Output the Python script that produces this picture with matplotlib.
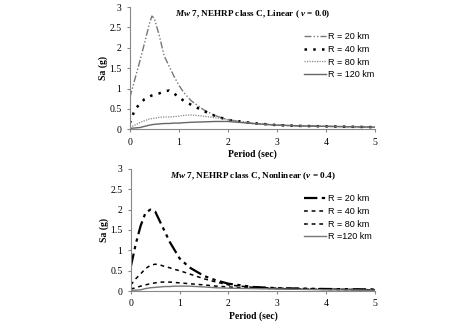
import numpy as np
import matplotlib
matplotlib.use("Agg")
import matplotlib.pyplot as plt

plt.rcParams['font.family'] = 'Liberation Serif'
plt.rcParams['mathtext.fontset'] = 'custom'
plt.rcParams['mathtext.it'] = 'Liberation Serif:italic:bold'
plt.rcParams['mathtext.rm'] = 'Liberation Serif:bold'

# Linear case (v = 0.0)
t_lin = [0, 0.1, 0.2, 0.3, 0.4, 0.45, 0.5, 0.6, 0.7, 0.8, 0.9, 1.0, 1.1, 1.25, 1.5,
         1.75, 2.0, 2.5, 3.0, 3.5, 4.0, 4.5, 5.0]
lin_r20 = [0.78, 1.22, 1.66, 2.12, 2.6, 2.78, 2.72, 2.3, 1.8, 1.55, 1.3, 1.08, 0.9, 0.7, 0.48,
           0.33, 0.23, 0.14, 0.1, 0.08, 0.07, 0.06, 0.05]
lin_r40 = [0.15, 0.48, 0.62, 0.74, 0.8, 0.83, 0.85, 0.88, 0.93, 0.95, 0.88, 0.78, 0.7, 0.6, 0.45,
           0.32, 0.23, 0.15, 0.1, 0.08, 0.07, 0.06, 0.05]
lin_r80 = [0.05, 0.1, 0.16, 0.21, 0.25, 0.26, 0.27, 0.29, 0.3, 0.3, 0.31, 0.32, 0.34, 0.35, 0.32,
           0.28, 0.24, 0.15, 0.1, 0.08, 0.07, 0.06, 0.05]
lin_r120 = [0.02, 0.03, 0.04, 0.07, 0.1, 0.11, 0.12, 0.13, 0.14, 0.14, 0.15, 0.15, 0.16, 0.17, 0.18,
            0.19, 0.19, 0.14, 0.1, 0.08, 0.07, 0.06, 0.05]

# Nonlinear case (v = 0.4)
t_nl = [0, 0.1, 0.2, 0.3, 0.4, 0.5, 0.6, 0.7, 0.8, 0.9, 1.0, 1.2, 1.5, 1.75, 2.0, 2.5, 3.0,
        3.5, 4.0, 4.5, 5.0]
nl_r20 = [0.6, 1.15, 1.6, 1.92, 2.0, 1.95, 1.7, 1.45, 1.2, 1.0, 0.8, 0.58, 0.37, 0.26, 0.18, 0.1,
          0.07, 0.06, 0.05, 0.045, 0.04]
nl_r40 = [0.15, 0.3, 0.42, 0.55, 0.63, 0.66, 0.64, 0.6, 0.57, 0.53, 0.5, 0.42, 0.3, 0.22, 0.15,
          0.09, 0.07, 0.06, 0.05, 0.04, 0.03]
nl_r80 = [0.05, 0.08, 0.12, 0.15, 0.18, 0.2, 0.22, 0.22, 0.22, 0.21, 0.2, 0.18, 0.15, 0.12, 0.1,
          0.07, 0.06, 0.05, 0.04, 0.035, 0.03]
nl_r120 = [0.02, 0.02, 0.03, 0.06, 0.08, 0.09, 0.1, 0.11, 0.11, 0.12, 0.12, 0.12, 0.1, 0.08, 0.07,
           0.06, 0.05, 0.04, 0.03, 0.025, 0.02]

labels = ['R = 20 km', 'R = 40 km', 'R = 80 km', 'R = 120 km']
labels_nl = ['R = 20 km', 'R = 40 km', 'R = 80 km', 'R =120 km']

fig = plt.figure(figsize=(4.74, 3.23), dpi=100)
ax1 = fig.add_axes([0.274, 0.600, 0.517, 0.378])
ax2 = fig.add_axes([0.276, 0.099, 0.515, 0.378])

ax1.plot(t_lin, lin_r20, color='#777777', lw=1.0, dashes=[5, 1.5, 1, 1.5, 1, 1.5], label=labels[0])
ax1.plot(t_lin, lin_r40, color='black', lw=1.8, dashes=[1, 2.5], label=labels[1])
ax1.plot(t_lin, lin_r80, color='#888888', lw=0.9, dashes=[1, 1], label=labels[2])
ax1.plot(t_lin, lin_r120, color='#666666', lw=1.0, label=labels[3])
ax1.set_title(r'$Mw$ 7, NEHRP class C, Linear ( $v$ = 0.0)', fontsize=6.6, fontweight='bold',
              y=0.86)

ax2.plot(t_nl, nl_r20, color='black', lw=1.6, dashes=[6, 2, 1.5, 2, 1.5, 2], label=labels_nl[0])
ax2.plot(t_nl, nl_r40, color='black', lw=1.1, dashes=[2.5, 2.5], label=labels_nl[1])
ax2.plot(t_nl, nl_r80, color='black', lw=1.1, dashes=[2.5, 2.5], label=labels_nl[2])
ax2.plot(t_nl, nl_r120, color='#777777', lw=1.0, label=labels_nl[3])
ax2.set_title(r'$Mw$ 7, NEHRP class C, Nonlinear ($v$ = 0.4)', fontsize=6.6, fontweight='bold',
              y=0.86)

for ax in (ax1, ax2):
    ax.set_xlim(0, 5)
    ax.set_ylim(0, 3)
    ax.set_xticks([0, 1, 2, 3, 4, 5])
    ax.set_yticks([0, 0.5, 1, 1.5, 2, 2.5, 3])
    ax.set_yticklabels(['0', '0.5', '1', '1.5', '2', '2.5', '3'])
    ax.spines['top'].set_visible(False)
    ax.spines['right'].set_visible(False)
    ax.spines['left'].set_color('#888888')
    ax.spines['bottom'].set_color('#888888')
    ax.tick_params(labelsize=7, length=2, color='#888888', pad=4)
    ax.set_xlabel('Period (sec)', fontsize=7, fontweight='bold', labelpad=2)
    ax.set_ylabel('Sa (g)', fontsize=7, fontweight='bold')
    ax.yaxis.set_label_coords(-0.088, 0.5)

leg1 = ax1.legend(loc='upper left', bbox_to_anchor=(0.625, 0.925), bbox_transform=fig.transFigure,
                  frameon=False, prop={'family': 'Liberation Sans', 'size': 6.5},
                  handlelength=2.4, handletextpad=0.2, labelspacing=0.4)
leg2 = ax2.legend(loc='upper left', bbox_to_anchor=(0.625, 0.423), bbox_transform=fig.transFigure,
                  frameon=False, prop={'family': 'Liberation Sans', 'size': 6.5},
                  handlelength=2.4, handletextpad=0.2, labelspacing=0.4)

fig.savefig('out.png', dpi=100)
